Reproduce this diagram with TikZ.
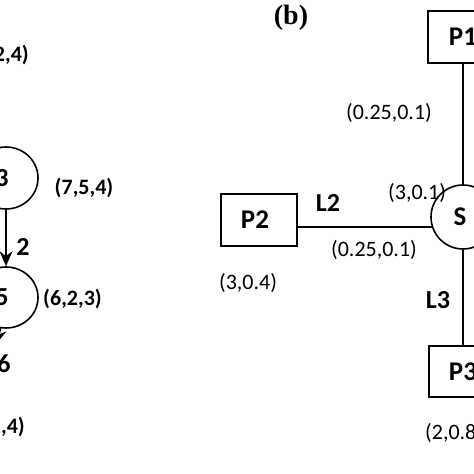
\documentclass[tikz,border=0pt]{standalone}
\usepackage{fontspec}
\setmainfont{Carlito}
\newfontfamily\serifb{Liberation Serif}
\usetikzlibrary{shapes.geometric,arrows.meta,calc}
\tikzset{
  ell/.style={draw,ellipse,line width=1.6pt,inner sep=0pt,font=\fontsize{26}{28}\selectfont\bfseries},
  box/.style={draw,rectangle,line width=1.6pt,inner sep=0pt,font=\fontsize{27}{29}\selectfont\bfseries},
  circ/.style={draw,circle,line width=1.6pt,inner sep=0pt,minimum size=64pt,font=\fontsize{27}{29}\selectfont\bfseries},
  lbl/.style={inner sep=0pt,font=\fontsize{22}{24}\selectfont},
  blbl/.style={inner sep=0pt,font=\fontsize{22}{24}\selectfont\bfseries},
  big/.style={inner sep=0pt,font=\fontsize{26}{28}\selectfont\bfseries},
  conn/.style={line width=1.6pt},
  arr/.style={line width=1.6pt,-{Stealth[length=15pt,width=13pt]}}
}
\begin{document}
\begin{tikzpicture}[x=1pt,y=-1pt]
\useasboundingbox (0,0) rectangle (474,474);
% left part
\node[blbl,anchor=east] (t24) at (29,55) {(5,2,4)};
\node[ell,minimum width=64pt,minimum height=62pt] (e3) at (6,178) {\kern-8pt 3};
\node[blbl] (t754) at (84,188) {(7,5,4)};
\node[ell,minimum width=64pt,minimum height=61pt] (e5) at (6,297.5) {\kern-8pt 5};
\node[blbl] (t623) at (72.5,299) {(6,2,3)};
\draw[arr] (e3.south) -- (e5.north);
\node[big] (l2) at (23,247) {2};
\coordinate (c6) at (-4,344);
\draw[arr] (e5.260) -- (c6);
\node[big] (l6) at (4,364) {6};
\node[blbl,anchor=east] (t324) at (25,427) {(3,2,4)};
% right part
\node[inner sep=0pt,font=\fontsize{28}{30}\selectfont\serifb\bfseries] (b) at (291,18) {(b)};
\node[lbl,anchor=west] (t301) at (388,193) {(3,0.1)};
\node[box,minimum width=70pt,minimum height=52pt] (P1) at (463,37) {P1};
\node[box,minimum width=76pt,minimum height=52pt] (P2) at (259,220) {\kern-8pt P2};
\node[box,minimum width=68pt,minimum height=51pt] (P3) at (463,371.5) {P3};
\node[circ] (S) at (463,217) {\kern-6pt S};
\draw[conn] (P1.south) -- (S.north);
\draw[conn] (S.south) -- (P3.north);
\draw[conn] (P2.east |- S.198) -- (S.198);
\node[lbl] (u1) at (389,113) {(0.25,0.1)};
\node[lbl] (u2) at (374,250) {(0.25,0.1)};
\node[lbl] (t304) at (248,283) {(3,0.4)};
\node[big] (L2) at (328,203) {L2};
\node[big] (L3) at (438,300) {L3};
\node[lbl,anchor=west] (t208) at (425,433) {(2,0.8)};
\end{tikzpicture}
\end{document}
